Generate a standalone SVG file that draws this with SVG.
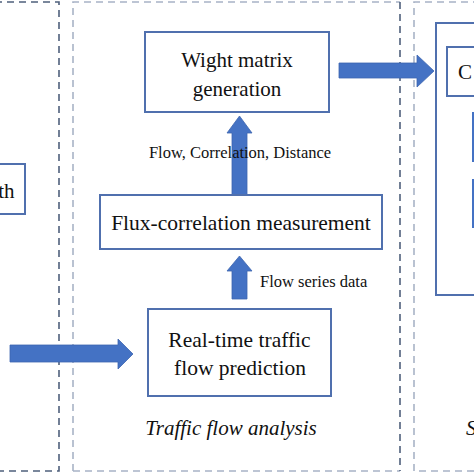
<svg xmlns="http://www.w3.org/2000/svg" width="474" height="474" viewBox="0 0 474 474">
<style>
.box{fill:#fff;stroke:#5070ae;stroke-width:2}
.arr{fill:#4472c4;stroke:#3d66b0;stroke-width:0.8}
.dk{fill:none;stroke:#4f607c;stroke-width:1.6;stroke-dasharray:7 5}
.lt{fill:none;stroke:#a8b3c6;stroke-width:1.6;stroke-dasharray:7 5}
.t{font-family:"Liberation Serif","Times New Roman",serif;fill:#111;font-size:21px}
.s{font-size:16.5px}
.i{font-style:italic}
</style>
<rect width="474" height="474" fill="#fff"/>
<g id="frames">
<polyline class="dk" points="-5,2 59,2 59,471 -5,471"/>
<polyline class="lt" points="73,471 73,2 400,2"/>
<polyline class="lt" points="73,471 400,471"/>
<line class="dk" x1="400" y1="2" x2="400" y2="471"/>
<polyline class="lt" points="480,2 414,2 414,471 480,471"/>
</g>
<g id="connectors">
<polygon class="arr" points="10,345 118,345 118,339 133,354 118,369 118,362 10,362"/>
<polygon class="arr" points="232,195 232,133 227,133 239.5,116 252,133 247,133 247,195"/>
<polygon class="arr" points="232,299 232,271 227,271 239.5,256 252,271 247,271 247,299"/>
<polygon class="arr" points="339,63 417,63 417,55 434,71 417,87 417,78 339,78"/>
</g>
<g id="node-left">
<rect class="box" x="-10" y="164" width="35" height="50"/>
<text class="t" x="14.5" y="198" text-anchor="end">th</text>
</g>
<g id="node-wight">
<rect class="box" x="145" y="32" width="184" height="80"/>
<text class="t" x="237" y="67" text-anchor="middle">Wight matrix</text>
<text class="t" x="237" y="96" text-anchor="middle">generation</text>
</g>
<text id="label-fcd" class="t s" x="240" y="158" text-anchor="middle">Flow, Correlation, Distance</text>
<g id="node-flux">
<rect class="box" x="100" y="195" width="282" height="54"/>
<text class="t" x="241" y="230" text-anchor="middle" style="font-size:21.5px">Flux-correlation measurement</text>
</g>
<text id="label-fsd" class="t s" x="260" y="287">Flow series data</text>
<g id="node-realtime">
<rect class="box" x="148" y="309" width="183" height="87"/>
<text class="t" x="239.5" y="347" text-anchor="middle" style="font-size:21.5px">Real-time traffic</text>
<text class="t" x="240" y="375" text-anchor="middle" style="font-size:21.5px">flow prediction</text>
</g>
<text id="title-mid" class="t i" x="231" y="435" text-anchor="middle">Traffic flow analysis</text>
<g id="node-right">
<rect class="box" x="436" y="23" width="60" height="272"/>
<rect class="box" x="447" y="47" width="40" height="49"/>
<text class="t" x="458" y="79">C</text>
<rect x="472" y="112" width="10" height="50" fill="#4472c4"/>
<rect x="472" y="179" width="10" height="49" fill="#4472c4"/>
</g>
<text id="title-right" class="t i" x="466" y="435">S</text>
</svg>
